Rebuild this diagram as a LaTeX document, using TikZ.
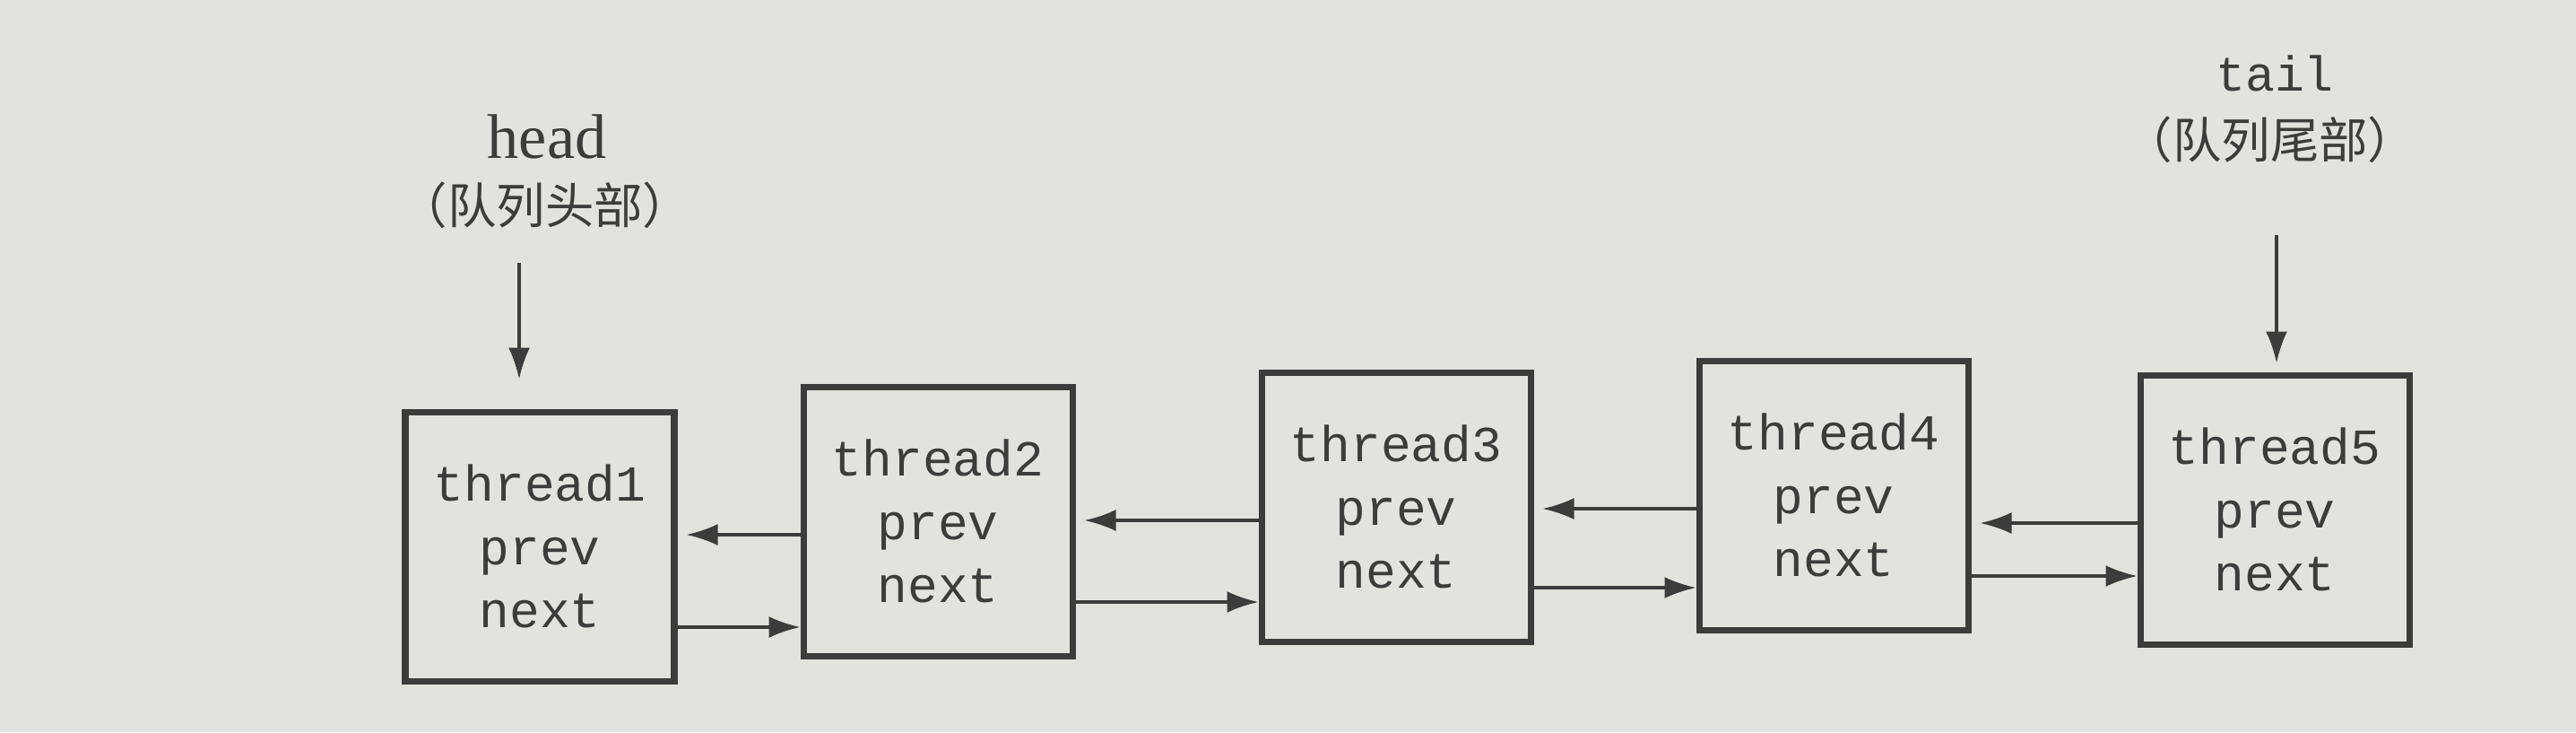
\documentclass[tikz,border=0pt]{standalone}
\usepackage{fontspec}
\setmainfont{Liberation Serif}
\setmonofont{Liberation Mono}
\newfontfamily\cjk{Noto Sans CJK SC}
\usetikzlibrary{arrows.meta, positioning, calc}
\definecolor{paper}{RGB}{226,226,222}
\definecolor{ink}{RGB}{60,60,60}

\begin{document}
\begin{tikzpicture}[>={Latex[length=3.5mm,width=2.4mm]},
                box/.style={draw=ink, line width=2pt, fill=paper, minimum width=3cm, minimum height=3cm,
                            align=center, text=ink, font=\fontsize{16}{20}\selectfont\ttfamily},
                link/.style={->, draw=ink, line width=0.9pt},
                tag/.style={text=ink, inner sep=1pt}]
                \fill[paper] (0,0) rectangle (28.73,-8.16);
                \useasboundingbox (0,0) rectangle (28.73,-8.16);
                % queue nodes
                \node[box] (t1) at (6.02,-6.09) {thread1\\prev\\next};
                \node[box] (t2) at (10.46,-5.81) {thread2\\prev\\next};
                \node[box] (t3) at (15.57,-5.65) {thread3\\prev\\next};
                \node[box] (t4) at (20.45,-5.52) {thread4\\prev\\next};
                \node[box] (t5) at (25.37,-5.68) {thread5\\prev\\next};
                % head / tail pointers
                \node[tag, font=\fontsize{20}{22}\selectfont] (head) at (6.1,-1.52) {head};
                \node[tag, font=\cjk\fontsize{15.5}{18}\selectfont] (headcn) at (6.08,-2.29) {（队列头部）};
                \node[tag, font=\fontsize{15.6}{18}\selectfont\ttfamily] (tail) at (25.37,-0.82) {tail};
                \node[tag, font=\cjk\fontsize{15.5}{18}\selectfont] (tailcn) at (25.32,-1.56) {（队列尾部）};
                \coordinate (hp) at (5.79,-2.93);
                \coordinate (tp) at (25.39,-2.62);
                \draw[link, shorten >=3.3mm] (hp) -- (hp |- t1.north);
                \draw[link, shorten >=1mm] (tp) -- (tp |- t5.north);
                % prev / next links
                \foreach \a/\b in {1/2, 2/3, 3/4, 4/5} {
                    \coordinate (p\b) at ([yshift=-1.5mm]t\b.west);
                    \coordinate (n\a) at ([yshift=-9mm]t\a.east);
                    \draw[link, shorten >=1mm] (p\b) -- (p\b -| t\a.east);
                    \draw[link] (n\a) -- (n\a -| t\b.west);
                }
            \end{tikzpicture}
\end{document}
